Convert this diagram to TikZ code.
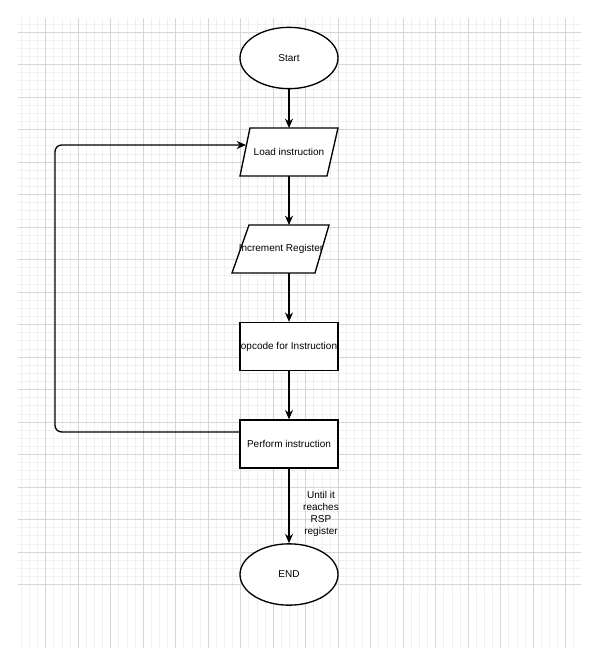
\documentclass[tikz,border=0pt]{standalone}
\usepackage{fontspec}
\setmainfont{Liberation Sans}
\usetikzlibrary{shapes.geometric,arrows.meta}
\begin{document}
\begin{tikzpicture}[x=0.75pt,y=-0.75pt,
  every node/.style={font=\fontsize{7.5}{9}\selectfont},
  box/.style={draw,line width=1pt,fill=white,minimum width=73.5pt,minimum height=36pt,inner sep=0pt},
  term/.style={draw,ellipse,line width=1pt,fill=white,minimum width=73.5pt,minimum height=46pt,inner sep=0pt},
  para/.style={minimum width=66pt,minimum height=36pt,inner sep=0pt},
  pshape/.style={draw,line width=1pt,fill=white},
  conn/.style={line width=1pt,-{Stealth[length=7pt,width=6pt]}}]
\useasboundingbox (0,0) rectangle (603,664);
\fill[white] (0,0) rectangle (603,664);
% grid
\begin{scope}
\clip (18,18.5) rectangle (581,647);
\foreach \i in {0,...,72} {
  \pgfmathsetmacro\xx{13.2+8.125*\i}
  \draw[black!6,line width=0.5pt] (\xx,0) -- (\xx,664);
  \pgfmathsetmacro\yy{-0.5+8.125*\i}
  \draw[black!6,line width=0.5pt] (0,\yy) -- (603,\yy);
}
\foreach \i in {0,...,18} {
  \pgfmathsetmacro\xx{13.2+32.5*\i}
  \draw[black!16,line width=0.7pt] (\xx,0) -- (\xx,664);
  \pgfmathsetmacro\yy{-0.5+32.5*\i}
  \draw[black!16,line width=0.7pt] (0,\yy) -- (603,\yy);
}
\end{scope}
% shapes
\node[term] (start) at (289,58) {Start};
\draw[pshape] (250,128) -- (338,128) -- (327,176) -- (240,176) -- cycle;
\node[para] (load) at (289,152) {Load instruction};
\draw[pshape] (249,225) -- (329,225) -- (315,273) -- (232,273) -- cycle;
\node[para] (inc) at (281,249) {Increment Register};
\node[box] (op) at (289,346.5) {opcode for Instruction};
\node[box] (perf) at (289,444) {Perform instruction};
\node[term] (end) at (289,574.5) {END};
\coordinate (loadin) at (246,145);
% connectors
\draw[conn] (start) -- (289,128);
\draw[conn] (289,176) -- (289,225);
\draw[conn] (289,273) -- (op);
\draw[conn] (op) -- (perf);
\draw[conn] (perf) -- (end);
\node[align=center] (lbl) at (321,513.5) {Until it\\reaches\\RSP\\register};
\draw[conn,rounded corners=5pt] (perf.west|-0,432) -- (55,432) -- (55,145) -- (loadin);
\end{tikzpicture}
\end{document}
